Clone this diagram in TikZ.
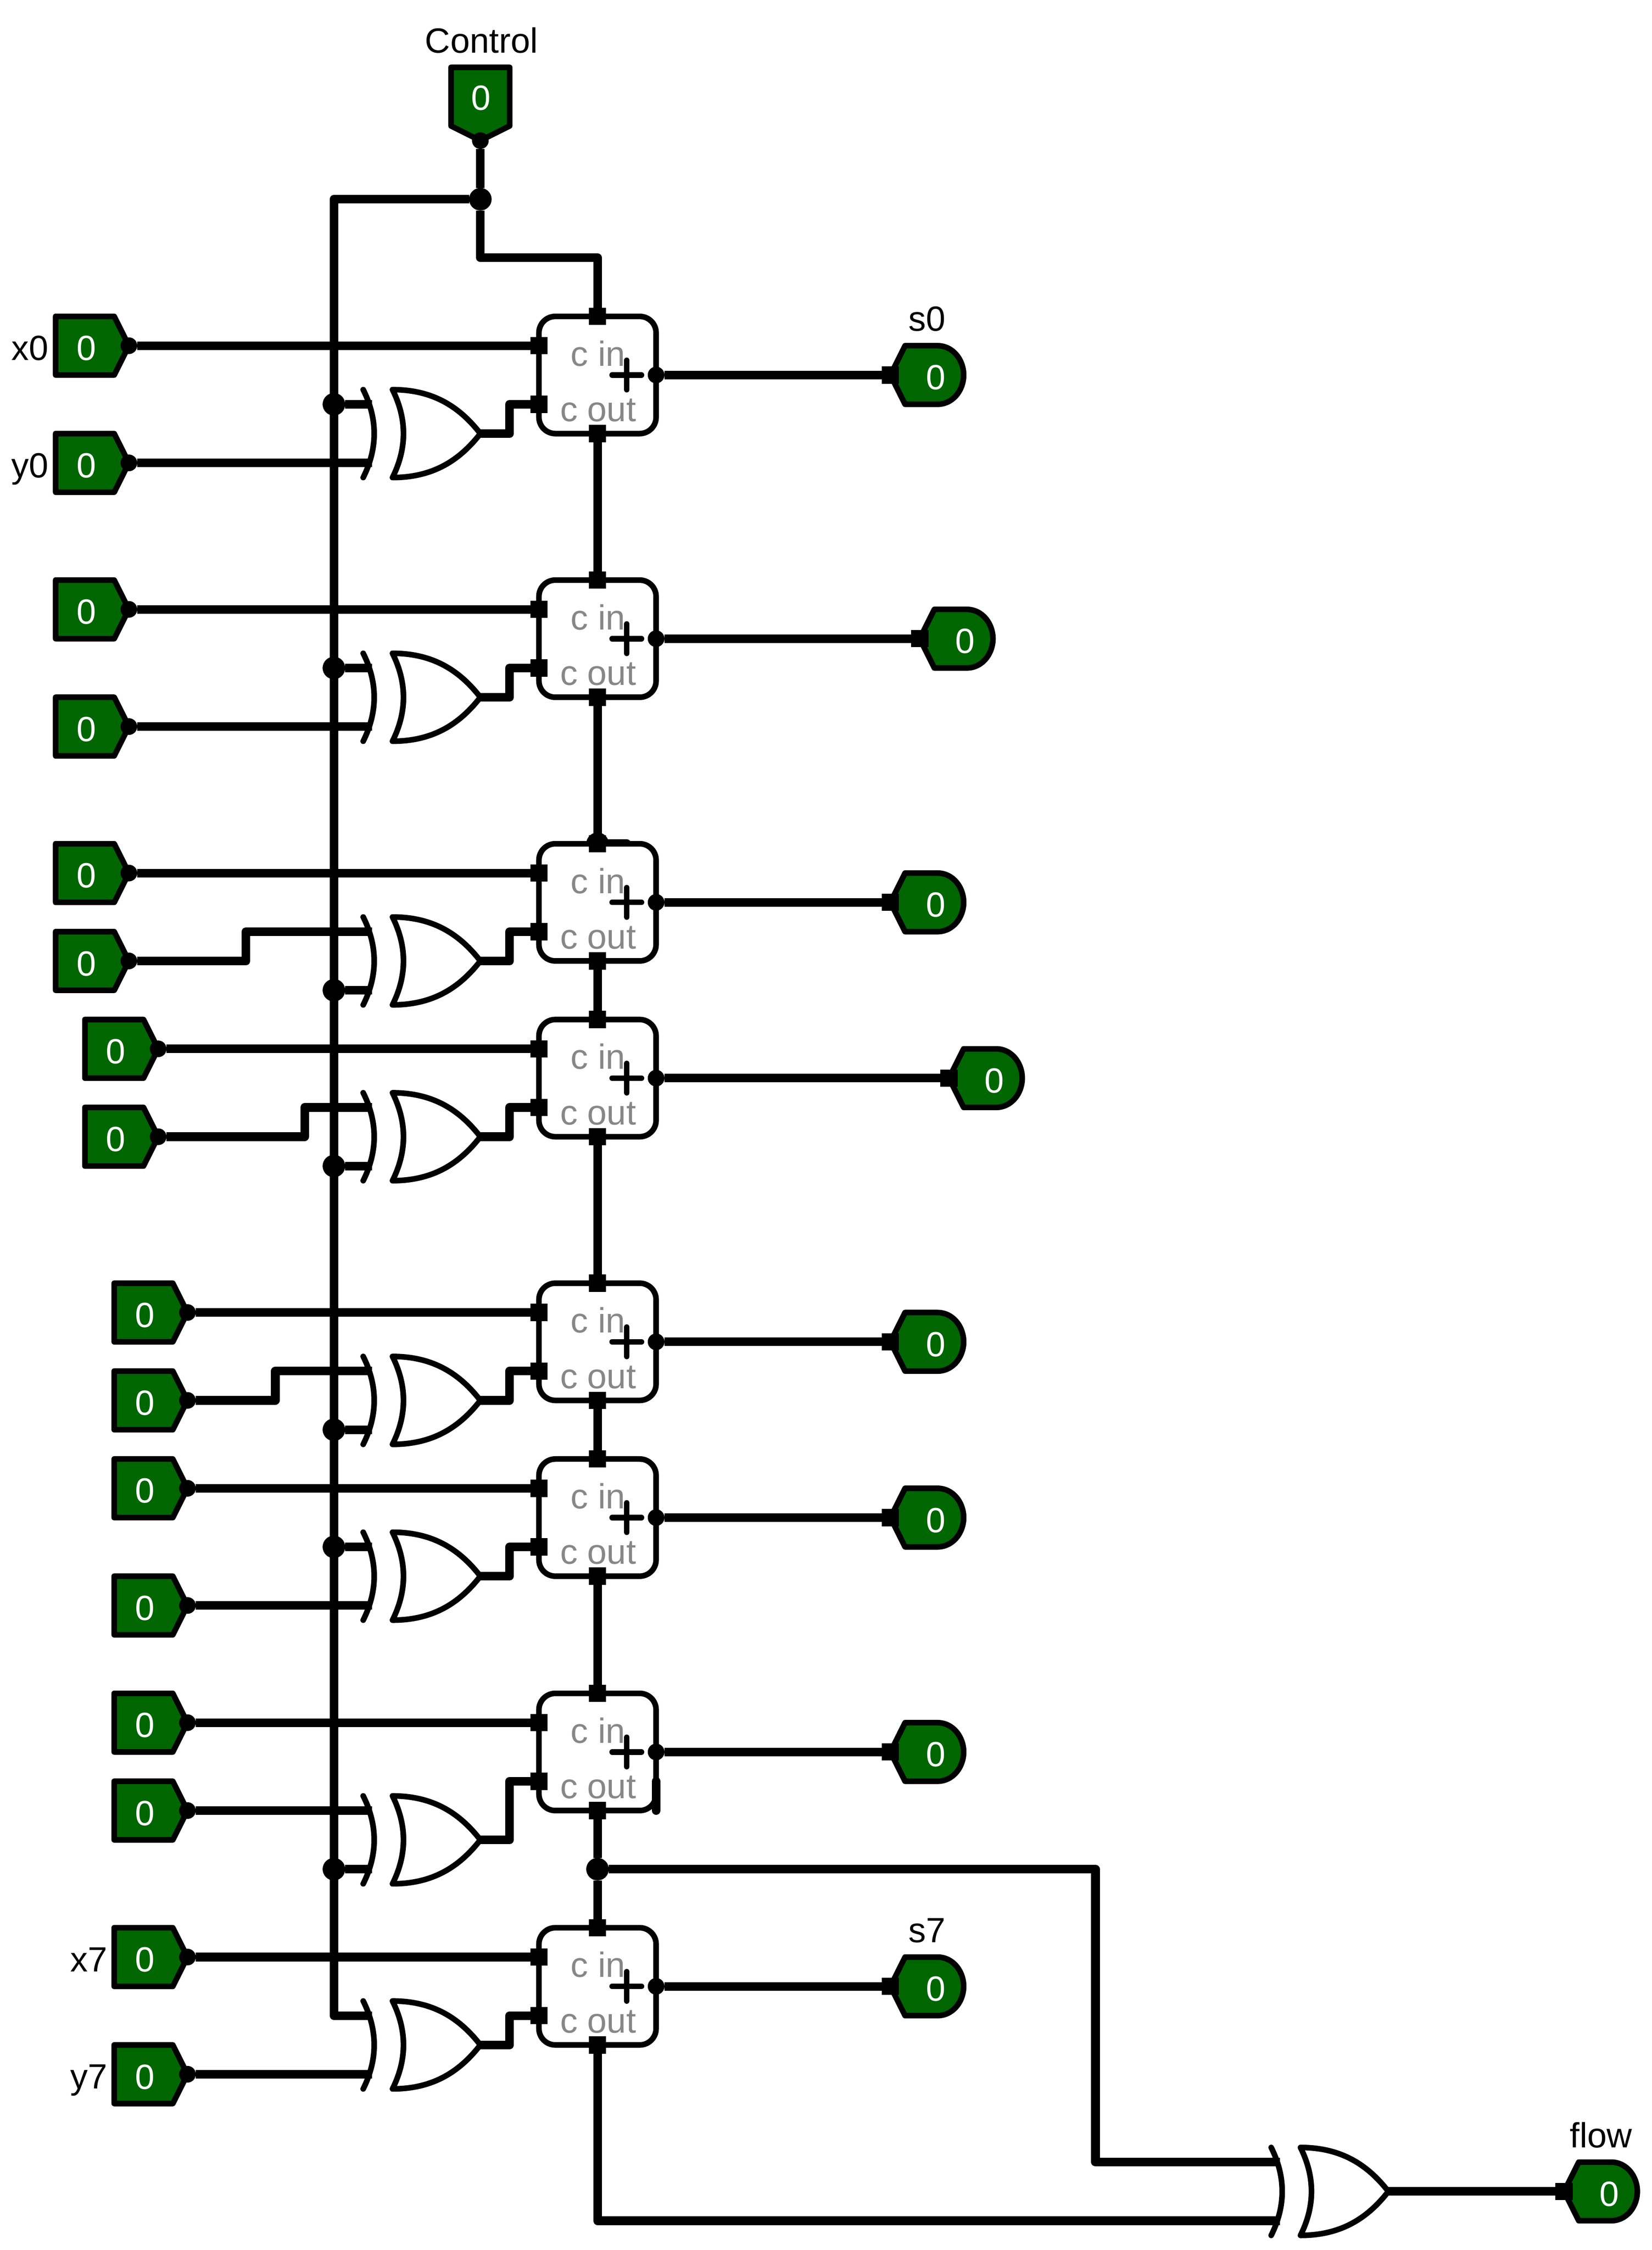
\documentclass[tikz,border=0pt]{standalone}
\usepackage{fontspec}
\setmainfont{Liberation Sans}
\usetikzlibrary{backgrounds}
\definecolor{pingreen}{RGB}{0,102,0}
\newcommand{\pinfont}{\fontsize{17}{20}\selectfont}

\begin{document}
\begin{tikzpicture}[
            x = .5cm, y = -.5cm,
            every node/.style={inner sep=0pt, outer sep=0pt, font=\pinfont},
            wire/.style={line width = .147cm, line join=round},
            outline/.style={line width = .096cm, line join=round},
            jdot/.style={circle, fill=black, minimum size=.385cm},
            pindot/.style={circle, fill=black, minimum size=.285cm},
            pinsq/.style={rectangle, fill=black, minimum size=.295cm},
            pinlabel/.style={anchor=base},
            portlabel/.style={anchor=base, text=black!47},
            pinval/.style={text=white},
            pics/inpin/.style={code={
                \draw[outline, fill=pingreen] (0,0) -- (-.5,1) -- (-2.5,1) -- (-2.5,-1) -- (-.5,-1) -- cycle;
                \node[pinval] (-val) at (-1.45,#1) {0};
                \node[pindot] (-tip) at (0,0) {};
            }},
            pics/inpin/.default=.09,
            pics/outpin/.style={code={
                \draw[outline, fill=pingreen] (0,0) -- (.5,-1) -- (1.6,-1) .. controls (2.15,-1) and (2.5,-.5) .. (2.5,0) .. controls (2.5,.5) and (2.15,1) .. (1.6,1) -- (.5,1) -- cycle;
                \node[pinval] (-val) at (1.55,.09) {0};
                \node[pinsq] (-tip) at (0,0) {};
            }},
            pics/adder/.style={code={
                \draw[outline, fill=white, rounded corners=.28cm] (0,0) rectangle (4,4);
                \node[portlabel] (-cin) at (2.02,1.69) {c in};
                \node[portlabel] (-cout) at (2.02,3.59) {c out};
                \draw[outline, line cap=round] (2.5,2) -- (3.5,2) (3,1.5) -- (3,2.5);
                \node[pinsq] (-a) at (0,1) {};
                \node[pinsq] (-b) at (0,3) {};
                \node[pinsq] (-c) at (2,0) {};
                \node[pinsq] (-d) at (2,4) {};
                \node[pindot] (-o) at (4,2) {};
            }},
            pics/xorgate/.style={code={
                \draw[outline, fill=white] (-3,-1.5) .. controls (-1.6,-1.5) and (-.7,-.9) .. (0,0) .. controls (-.7,.9) and (-1.6,1.5) .. (-3,1.5) .. controls (-2.5,.5) and (-2.5,-.5) .. (-3,-1.5) -- cycle;
                \draw[outline, line cap=round] (-4,-1.5) .. controls (-3.5,-.5) and (-3.5,.5) .. (-4,1.5);
                \coordinate (-a) at (-3.7,-1);
                \coordinate (-b) at (-3.7,1);
                \coordinate (-o) at (0,0);
            }},
            ]
        \useasboundingbox (-.4,-.8) rectangle (56,76);

        \foreach \n/\T/\ox in {0/10/30,1/19/31,2/28/30,3/34/32,4/43/30,5/49/30,6/57/30,7/65/30} {
            \pic (add\n) at (18,\T) {adder};
            \pic (s\n) at (\ox,\T+2) {outpin};
        }
        \foreach \n/\gy in {0/14,1/23,2/32,3/38,4/47,5/53,6/62,7/69,8/74}
            \pic (gate\n) at ({\n==8 ? 47 : 16},\gy) {xorgate};
        \foreach \n/\ix/\xy/\yy in {0/4/11/15,1/4/20/24,2/4/29/32,3/5/35/38,4/6/44/47,5/6/50/54,6/6/58/61,7/6/66/70} {
            \pic (x\n) at (\ix,\xy) {inpin};
            \pic (y\n) at (\ix,\yy) {inpin};
        }
        \pic[rotate=-90] (ctrl) at (16,4) {inpin=-.02};
        \pic (flow) at (53,74) {outpin};

        \node[pinlabel] (ctrllabel) at (16.04,1) {Control};
        \node[pinlabel, anchor=base east] (x0label) at (1.26,11.5) {x0};
        \node[pinlabel, anchor=base east] (y0label) at (1.26,15.5) {y0};
        \node[pinlabel, anchor=base east] (x7label) at (3.26,66.5) {x7};
        \node[pinlabel, anchor=base east] (y7label) at (3.26,70.5) {y7};
        \node[pinlabel] (s0label) at (31.25,10.5) {s0};
        \node[pinlabel] (s7label) at (31.25,65.5) {s7};
        \node[pinlabel] (flowlabel) at (54.26,72.5) {flow};

        \begin{scope}[on background layer]
            \node[jdot] (ctrldot) at (16,6) {};
            \node[jdot] (carrydot) at (20,63) {};
            \node[jdot] (stubdot) at (20,28) {};
            \coordinate (ctrlbend) at (16,8);
            \coordinate (busend) at (11,68);
            \coordinate (ovfbend) at (37,73);
            \coordinate (stubend) at (21,28);
            \foreach \n/\ty in {0/13,1/22,2/33,3/39,4/48,5/52,6/63}
                \node[jdot] (tap\n) at (11,\ty) {};
            \foreach \n/\jx/\jy in {2/8/31,3/10/37,4/9/46}
                \coordinate (jog\n) at (\jx,\jy);

            \draw[wire] (ctrl-tip) -- (ctrldot) -- (ctrlbend) -| (add0-c);
            \draw[wire] (ctrldot) -| (busend) -- (gate7-a);
            \foreach \n in {0,...,7} {
                \draw[wire] (x\n-tip) -- (add\n-a);
                \draw[wire] (add\n-o) -- (s\n-tip);
                \draw[wire] (gate\n-o) -- ++(1,0) |- (add\n-b);
            }
            \foreach \a/\b in {0/1,1/2,2/3,3/4,4/5,5/6}
                \draw[wire] (add\a-d) -- (add\b-c);
            \draw[wire] (add6-d) -- (carrydot) -- (add7-c);
            \draw[wire] (carrydot) -| (ovfbend) -- (gate8-a);
            \draw[wire] (add7-d) |- (gate8-b);
            \draw[wire] (gate8-o) -- (flow-tip);
            \draw[wire, line cap=round] (stubdot) -- (stubend);
            \foreach \n in {0,1,5,7}
                \draw[wire] (y\n-tip) -- (gate\n-b);
            \draw[wire] (y6-tip) -- (gate6-a);
            \foreach \n in {2,3,4}
                \draw[wire] (y\n-tip) -| (jog\n) -- (gate\n-a);
            \foreach \n in {0,1,5}
                \draw[wire] (tap\n) -- (gate\n-a);
            \foreach \n in {2,3,4,6}
                \draw[wire] (tap\n) -- (gate\n-b);
        \end{scope}

        \coordinate (notcha) at (22,60);
        \coordinate (notchb) at (22,61);
        \draw[wire, line cap=round] (notcha) -- (notchb);
    \end{tikzpicture}
\end{document}
